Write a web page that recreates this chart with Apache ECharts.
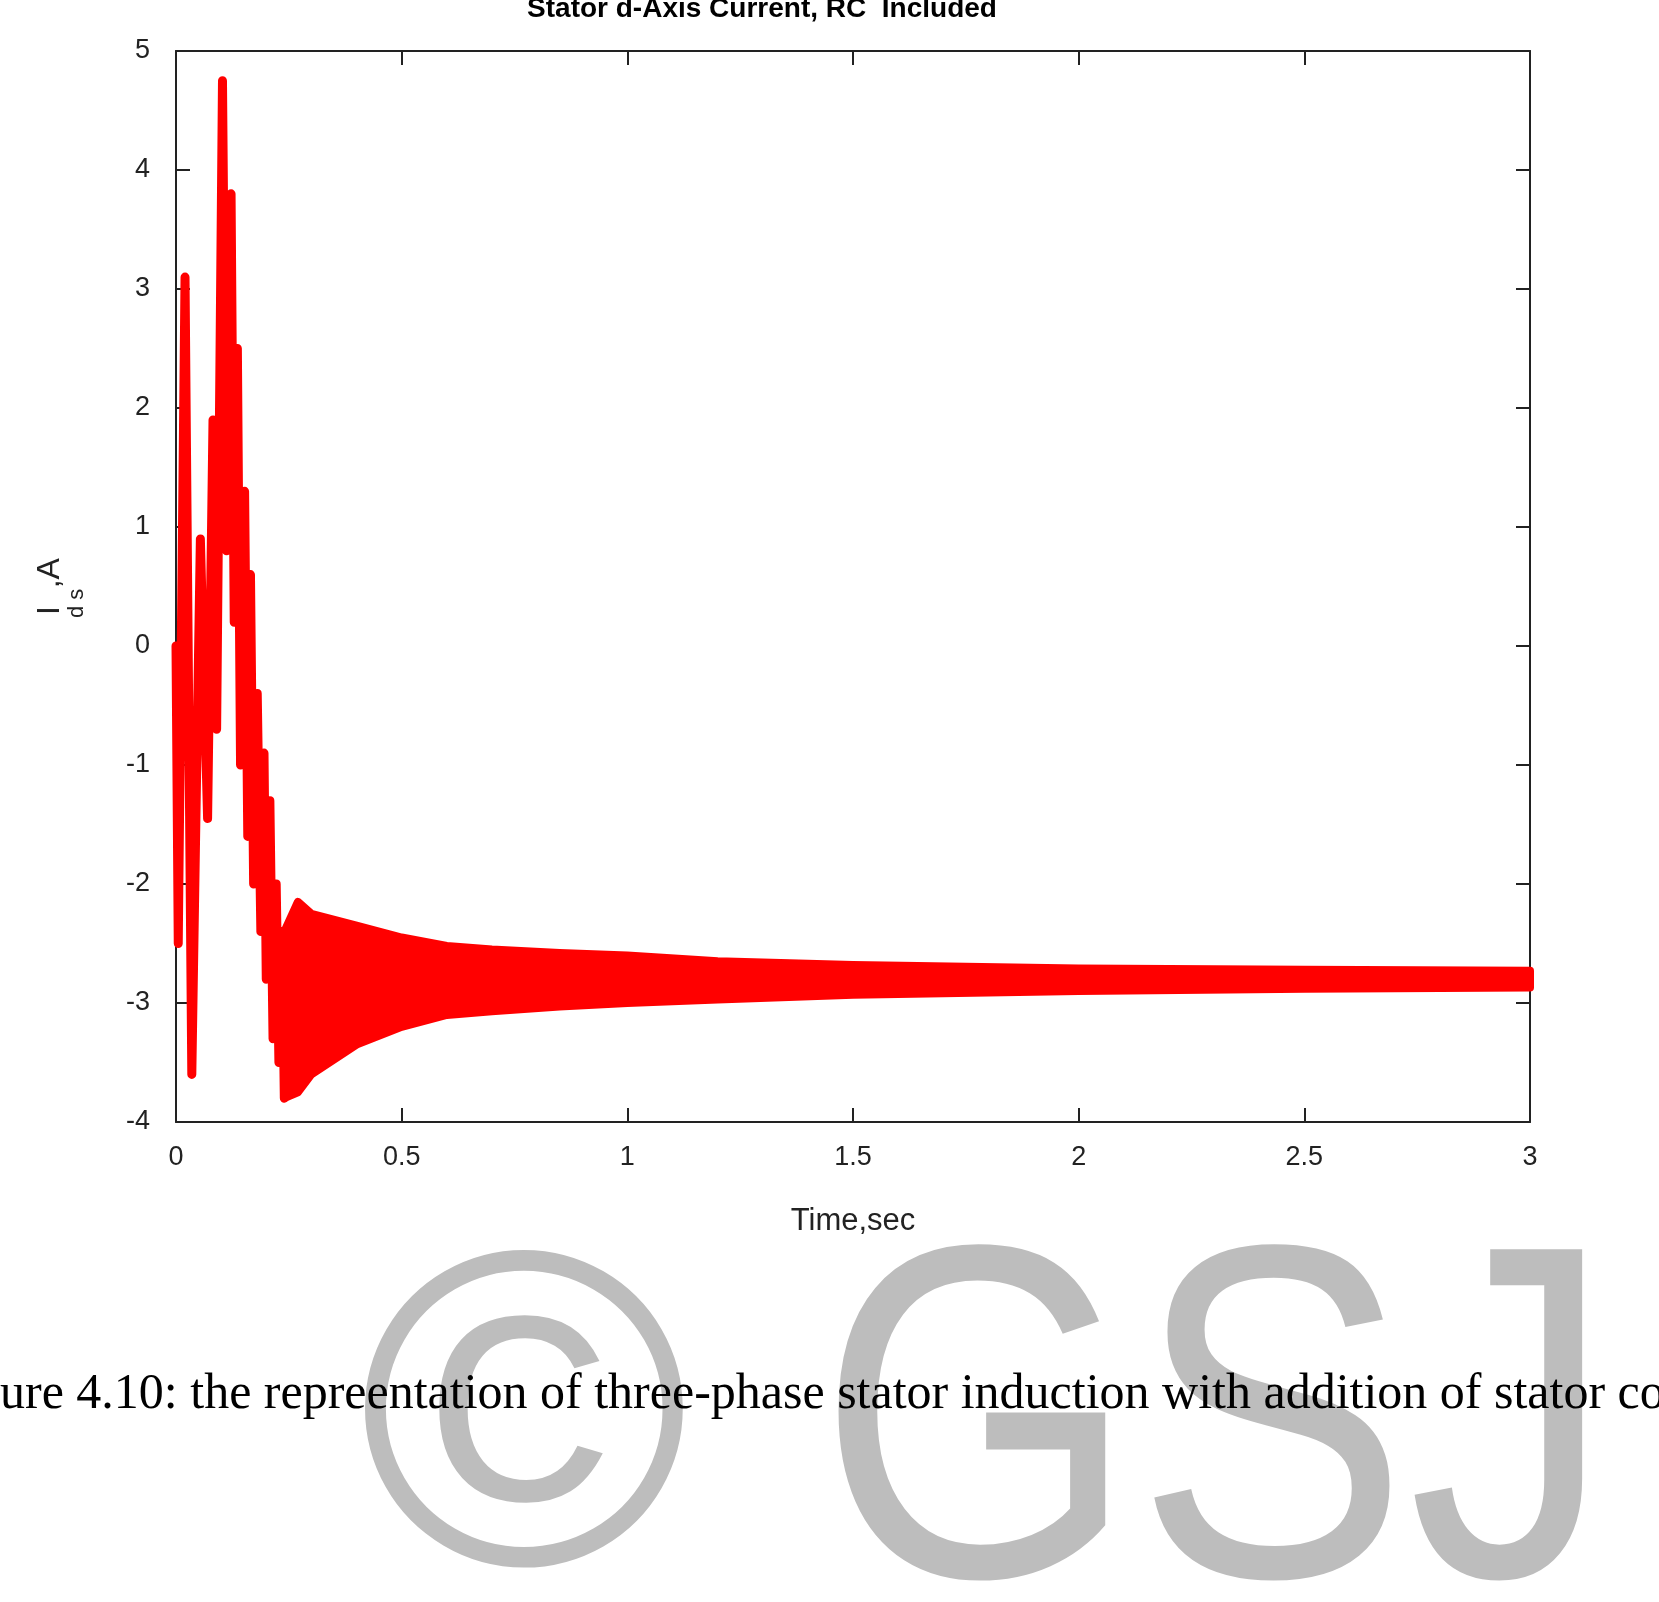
<!DOCTYPE html>
<html>
<head>
<meta charset="utf-8">
<script src="https://cdn.jsdelivr.net/npm/echarts@6/dist/echarts.min.js"></script>
<style>html,body{margin:0;padding:0;background:#fff}#chart{width:1659px;height:1602px}</style>
</head>
<body>
<div id="chart"></div>
<script>
// early transient, turning points
const transientT = [0, 0.005, 0.02, 0.035, 0.054, 0.07, 0.082, 0.09, 0.103, 0.112, 0.122, 0.129, 0.136, 0.143, 0.152, 0.159, 0.165, 0.172, 0.18, 0.188, 0.195, 0.2, 0.208, 0.215, 0.222, 0.228, 0.235, 0.24];
const transientI = [0, -2.5, 3.1, -3.6, 0.9, -1.45, 1.9, -0.7, 4.75, 0.8, 3.8, 0.2, 2.5, -1.0, 1.3, -1.6, 0.6, -2.0, -0.4, -2.4, -0.9, -2.8, -1.3, -3.3, -2.0, -3.5, -2.4, -3.8];
// envelope of the fast oscillation afterwards
const bandT = [0.24, 0.27, 0.3, 0.4, 0.5, 0.6, 0.7, 0.85, 1.0, 1.2, 1.5, 2.0, 2.5, 3.0];
const bandUpper = [-2.4, -2.15, -2.25, -2.35, -2.45, -2.52, -2.55, -2.58, -2.6, -2.65, -2.68, -2.71, -2.72, -2.73];
const bandLower = [-3.8, -3.75, -3.6, -3.35, -3.2, -3.1, -3.07, -3.03, -3.0, -2.97, -2.93, -2.9, -2.88, -2.87];
const xTicks = [0, 0.5, 1, 1.5, 2, 2.5, 3];

const chart = echarts.init(document.getElementById('chart'));
const font = 'Liberation Sans';

const transientData = transientT.map((t, i) => [t, transientI[i]]);
const bandData = bandT.map((t, i) => [t, bandUpper[i], bandLower[i]]);

const axisCommon = {
    axisLine: { onZero: false, lineStyle: { color: '#222', width: 2 } },
    axisTick: { inside: true, length: 14, lineStyle: { color: '#222', width: 2 } },
    splitLine: { show: false }
};

const option = {
    animation: false,
    grid: { left: 176, right: 129, top: 51, bottom: 480, containLabel: false },
    title: {
        text: 'Stator d-Axis Current, RC  Included',
        left: 757, top: -10, textAlign: 'center',
        textStyle: { fontFamily: font, fontWeight: 'bold', fontSize: 28, color: '#000' }
    },
    xAxis: [Object.assign({
        type: 'value', min: 0, max: 3, interval: 0.5,
        name: 'Time,sec', nameLocation: 'middle', nameGap: 84,
        nameTextStyle: { fontFamily: font, fontSize: 31, color: '#222' },
        axisLabel: { fontFamily: font, fontSize: 27, color: '#222', margin: 22,
            formatter: v => xTicks.includes(v) ? String(v) : '' }
    }, axisCommon), Object.assign({
        type: 'value', min: 0, max: 3, interval: 0.5, position: 'top',
        axisLabel: { show: false }
    }, axisCommon)],
    yAxis: [Object.assign({
        type: 'value', min: -4, max: 5, interval: 1,
        name: 'I  ,A', nameLocation: 'middle', nameGap: 110, nameRotate: 90,
        nameTextStyle: { fontFamily: font, fontSize: 32, color: '#222' },
        axisLabel: { fontFamily: font, fontSize: 27, color: '#222', margin: 26 }
    }, axisCommon), Object.assign({
        type: 'value', min: -4, max: 5, interval: 1, position: 'right',
        axisLabel: { show: false }
    }, axisCommon)],
    series: [{
        type: 'custom', z: 3, data: bandData,
        renderItem: (params, api) => {
            if (params.dataIndex !== 0) return;
            const top = bandData.map(d => api.coord([d[0], d[1]]));
            const bot = bandData.map(d => api.coord([d[0], d[2]])).reverse();
            return {
                type: 'polygon',
                shape: { points: top.concat(bot) },
                style: { fill: '#ff0000', stroke: '#ff0000', lineWidth: 8, lineJoin: 'round' }
            };
        }
    }, {
        type: 'line', data: transientData, symbol: 'none', z: 4,
        lineStyle: { color: '#ff0000', width: 9, join: 'round', cap: 'round' }
    }],
    graphic: [
        { type: 'text', z: 10, rotation: Math.PI / 2, x: 66, y: 618,
          style: { text: 'd s', font: '22px "Liberation Sans"', fill: '#222' } },
        { type: 'text', z: 1, silent: true,
          style: { text: '©', x: 524, y: 1440, font: '450px "Liberation Sans"', fill: '#bdbdbd',
                   textAlign: 'center', textVerticalAlign: 'middle' } },
        { type: 'text', z: 1, silent: true, x: 818, y: 1445, scaleX: 0.86,
          style: { text: 'GSJ', x: 0, y: 0, font: '475px "Liberation Sans"', fill: '#bdbdbd',
                   textVerticalAlign: 'middle' } },
        { type: 'text', z: 20,
          style: { text: 'ure 4.10: the repreentation of three-phase stator induction with addition of stator co',
                   x: 0, y: 1395, font: '50px "Liberation Serif"', fill: '#000', textVerticalAlign: 'middle' } }
    ]
};
chart.setOption(option);
</script>
</body>
</html>
